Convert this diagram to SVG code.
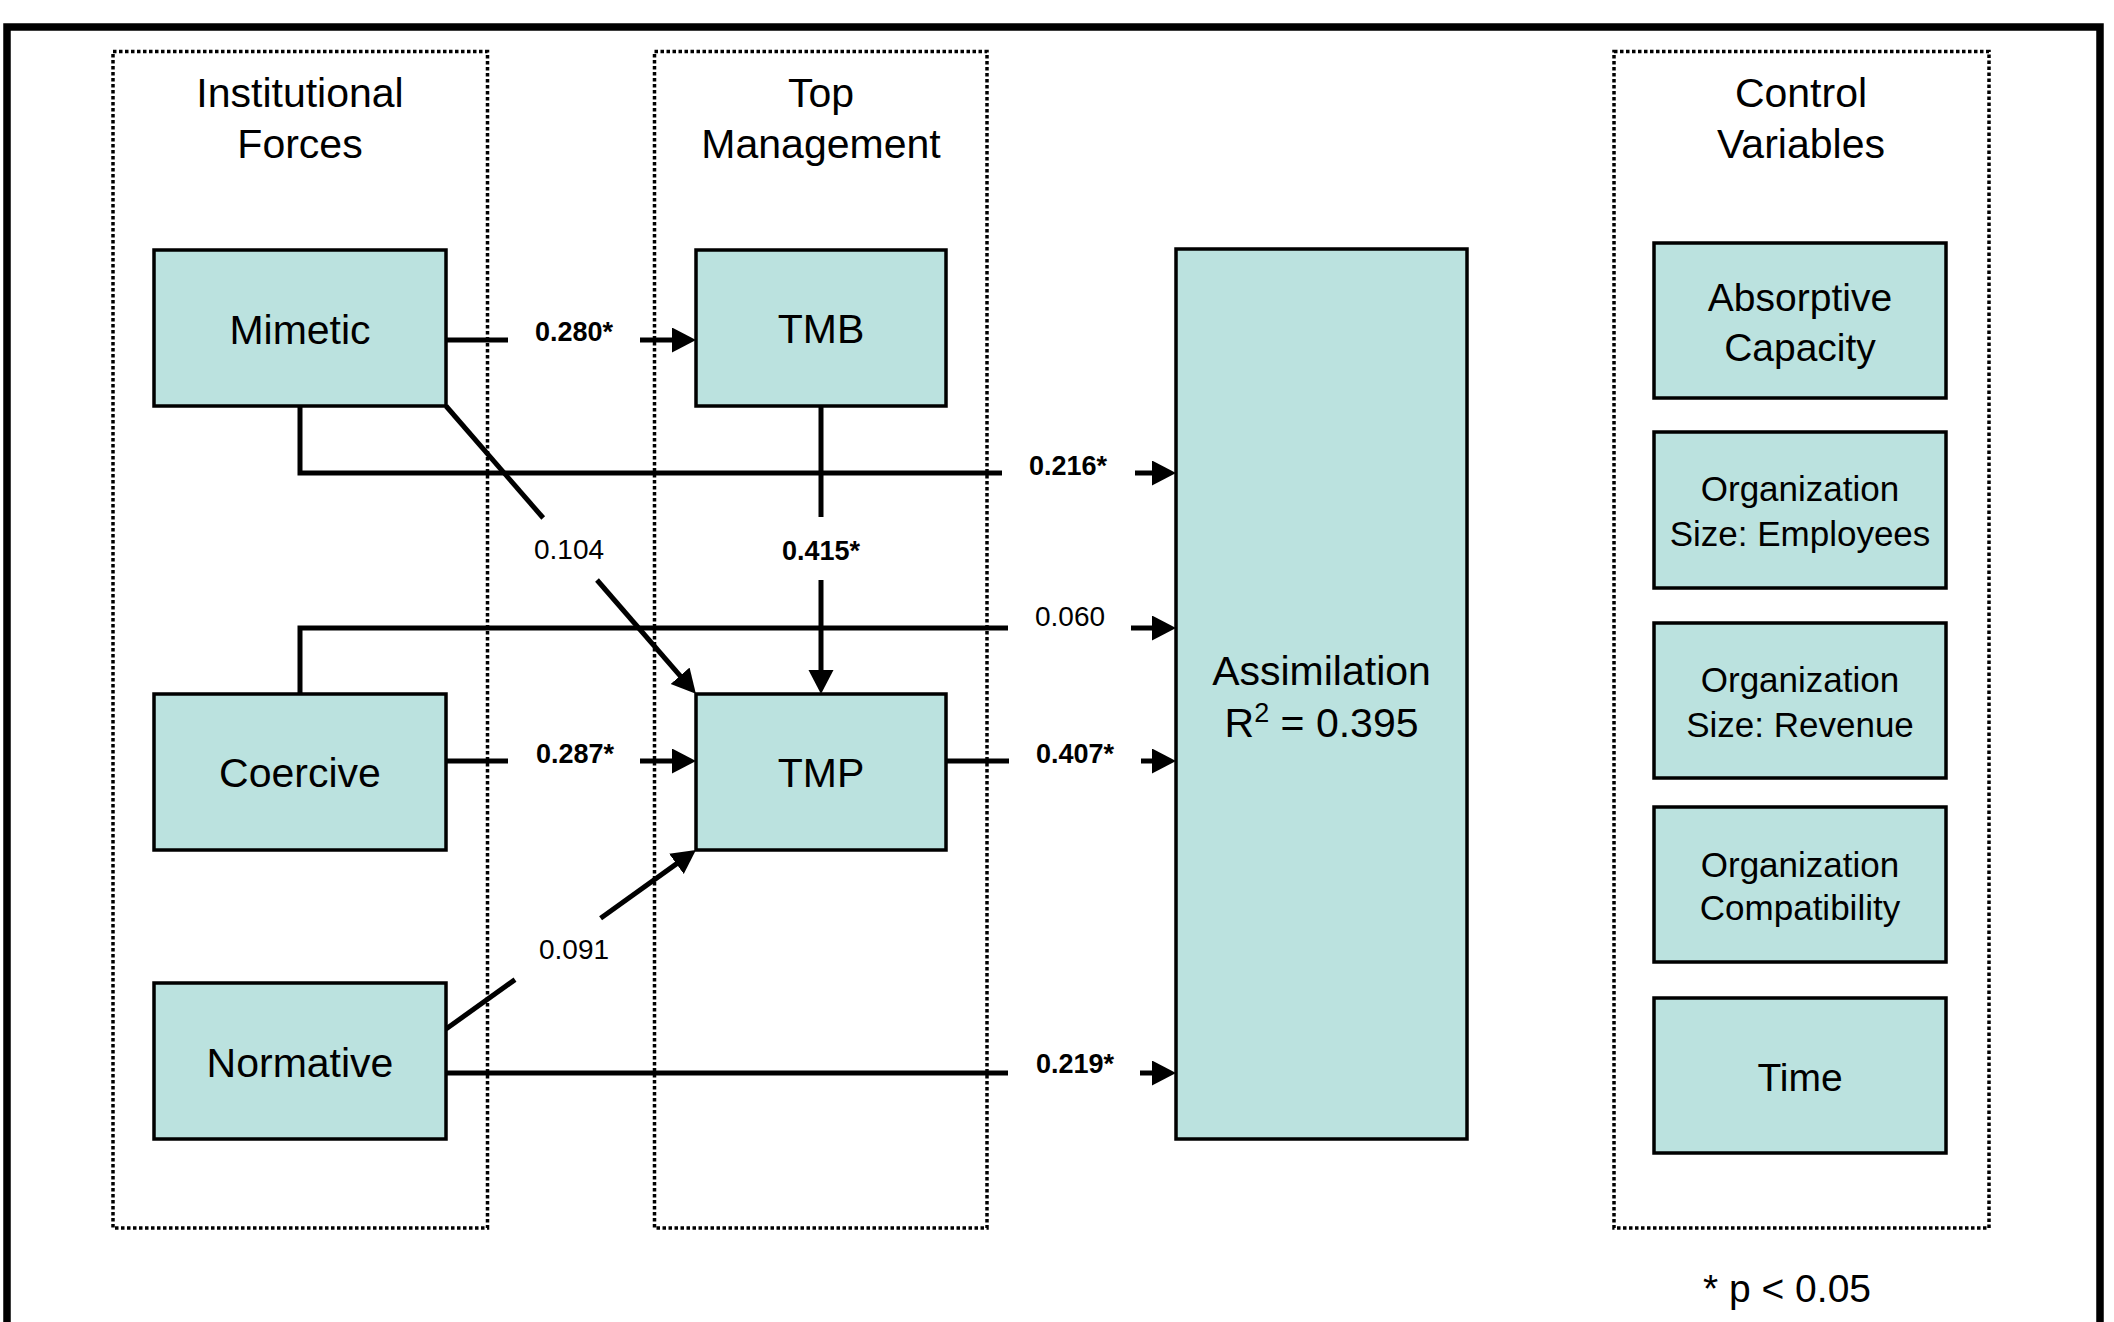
<svg xmlns="http://www.w3.org/2000/svg" width="2114" height="1322" viewBox="0 0 2114 1322">
<style>
  .frame{fill:none;stroke:#000;stroke-width:7.5}
  .grp{fill:none;stroke:#000;stroke-width:3.5;stroke-dasharray:3.5 2.5}
  .box{fill:#BBE2DF;stroke:#000;stroke-width:3.5}
  text{font-family:"Liberation Sans",Arial,sans-serif;fill:#000;text-anchor:middle}
  .big{font-size:41px}
  .mid{font-size:39px}
  .sm{font-size:35px}
  .lb{font-size:27px;font-weight:bold}
  .ln{font-size:28px}
  .c{fill:none;stroke:#000;stroke-width:5}
  .a{fill:none;stroke:#000;stroke-width:5;marker-end:url(#arr)}
</style>
<defs>
  <marker id="arr" markerUnits="userSpaceOnUse" markerWidth="26" markerHeight="26" refX="12" refY="12.5" orient="auto" viewBox="0 0 26 26">
    <path d="M0,0 L24,12.5 L0,25 Z" fill="#000"/>
  </marker>
</defs>
<rect x="0" y="0" width="2114" height="1322" fill="#fff"/>
<path class="frame" d="M7,1330 V27 H2100 V1330"/>

<g id="group-institutional">
  <rect class="grp" x="113" y="51.5" width="374.5" height="1176.5"/>
  <text class="big" x="300" y="107">Institutional</text>
  <text class="big" x="300" y="158">Forces</text>
</g>
<g id="group-top-management">
  <rect class="grp" x="654.5" y="51.5" width="332.5" height="1176.5"/>
  <text class="big" x="821" y="107">Top</text>
  <text class="big" x="821" y="158">Management</text>
</g>
<g id="group-control">
  <rect class="grp" x="1614" y="51.5" width="375" height="1176.5"/>
  <text class="big" x="1801" y="107">Control</text>
  <text class="big" x="1801" y="158">Variables</text>
</g>

<g id="connectors">
  <!-- Mimetic -> TMB -->
  <line class="c" x1="446" y1="340" x2="508" y2="340"/>
  <line class="a" x1="640" y1="340" x2="684" y2="340"/>
  <text class="lb" x="574" y="341">0.280*</text>
  <!-- Mimetic -> Assimilation -->
  <polyline class="c" points="300,406 300,473 1002,473"/>
  <line class="a" x1="1135" y1="473" x2="1164" y2="473"/>
  <text class="lb" x="1068" y="475">0.216*</text>
  <!-- Mimetic -> TMP -->
  <line class="c" x1="446" y1="406" x2="543.2" y2="518"/>
  <line class="a" x1="597" y1="580" x2="688" y2="684.8"/>
  <text class="ln" x="569" y="559">0.104</text>
  <!-- TMB -> TMP -->
  <line class="c" x1="821" y1="406" x2="821" y2="517"/>
  <line class="a" x1="821" y1="580" x2="821" y2="682"/>
  <text class="lb" x="821" y="560">0.415*</text>
  <!-- Coercive -> Assimilation -->
  <polyline class="c" points="300,694 300,628 1008,628"/>
  <line class="a" x1="1131" y1="628" x2="1164" y2="628"/>
  <text class="ln" x="1070" y="626">0.060</text>
  <!-- Coercive -> TMP -->
  <line class="c" x1="446" y1="761" x2="508" y2="761"/>
  <line class="a" x1="640" y1="761" x2="684" y2="761"/>
  <text class="lb" x="575" y="763">0.287*</text>
  <!-- TMP -> Assimilation -->
  <line class="c" x1="946" y1="761" x2="1009" y2="761"/>
  <line class="a" x1="1141" y1="761" x2="1164" y2="761"/>
  <text class="lb" x="1075" y="763">0.407*</text>
  <!-- Normative -> TMP -->
  <line class="c" x1="446" y1="1029" x2="515" y2="979.6"/>
  <line class="a" x1="600.6" y1="918.3" x2="686.2" y2="856.9"/>
  <text class="ln" x="574" y="959">0.091</text>
  <!-- Normative -> Assimilation -->
  <line class="c" x1="446" y1="1073" x2="1008" y2="1073"/>
  <line class="a" x1="1140" y1="1073" x2="1164" y2="1073"/>
  <text class="lb" x="1075" y="1073">0.219*</text>
</g>

<g id="node-mimetic">
  <rect class="box" x="154" y="250" width="292" height="156"/>
  <text class="big" x="300" y="344">Mimetic</text>
</g>
<g id="node-coercive">
  <rect class="box" x="154" y="694" width="292" height="156"/>
  <text class="big" x="300" y="787">Coercive</text>
</g>
<g id="node-normative">
  <rect class="box" x="154" y="983" width="292" height="156"/>
  <text class="big" x="300" y="1077">Normative</text>
</g>
<g id="node-tmb">
  <rect class="box" x="696" y="250" width="250" height="156"/>
  <text class="big" x="821" y="343">TMB</text>
</g>
<g id="node-tmp">
  <rect class="box" x="696" y="694" width="250" height="156"/>
  <text class="big" x="821" y="787">TMP</text>
</g>
<g id="node-assimilation">
  <rect class="box" x="1176" y="249" width="291" height="890"/>
  <text class="big" x="1321.5" y="685">Assimilation</text>
  <text class="big" x="1321.5" y="737">R<tspan font-size="27px" dy="-15">2</tspan><tspan dy="15"> = 0.395</tspan></text>
</g>
<g id="node-absorptive">
  <rect class="box" x="1654" y="243" width="292" height="155"/>
  <text class="mid" x="1800" y="311">Absorptive</text>
  <text class="mid" x="1800" y="361">Capacity</text>
</g>
<g id="node-size-employees">
  <rect class="box" x="1654" y="432" width="292" height="156"/>
  <text class="sm" x="1800" y="501">Organization</text>
  <text class="sm" x="1800" y="546">Size: Employees</text>
</g>
<g id="node-size-revenue">
  <rect class="box" x="1654" y="623" width="292" height="155"/>
  <text class="sm" x="1800" y="692">Organization</text>
  <text class="sm" x="1800" y="737">Size: Revenue</text>
</g>
<g id="node-compatibility">
  <rect class="box" x="1654" y="807" width="292" height="155"/>
  <text class="sm" x="1800" y="877">Organization</text>
  <text class="sm" x="1800" y="920">Compatibility</text>
</g>
<g id="node-time">
  <rect class="box" x="1654" y="998" width="292" height="155"/>
  <text class="mid" x="1800" y="1091">Time</text>
</g>

<text class="mid" x="1787" y="1302">* p &lt; 0.05</text>
</svg>
